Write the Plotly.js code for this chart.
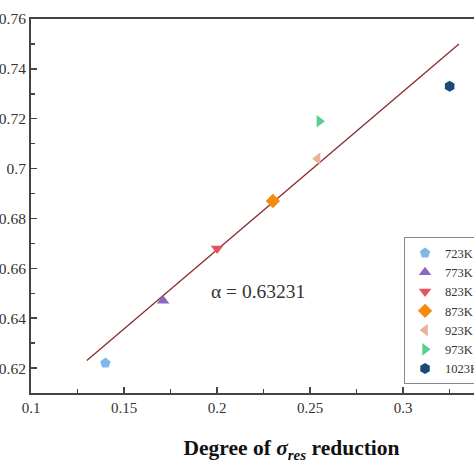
<!DOCTYPE html>
<html><head><meta charset="utf-8">
<script src="https://cdn.plot.ly/plotly-3.0.1.min.js"></script>
<style>html,body{margin:0;padding:0;overflow:hidden;width:474px;height:474px;background:#fff}#p{position:absolute;left:0;top:0;width:580px;height:474px}</style>
</head><body><div id="p"></div>
<script>
const names = ['723K','773K','823K','873K','923K','973K','1023K'];
const xVals = [0.140, 0.171, 0.200, 0.230, 0.254, 0.255, 0.325];
const yVals = [0.622, 0.647, 0.668, 0.687, 0.704, 0.719, 0.733];
const symbols = ['pentagon','triangle-up','triangle-down','diamond','triangle-left','triangle-right','hexagon'];
const colors = ['#82b8e8','#8b68c2','#e2545d','#f58a0c','#e8b39a','#5ccb8f','#1b4a78'];
const fitX = [0.13, 0.33];
const fitY = [0.623, 0.750];
const alphaText = 'α = 0.63231';

const traces = [{
  x: fitX, y: fitY, mode: 'lines', type: 'scatter', showlegend: false,
  line: {color: '#8b2a2a', width: 1.3}, hoverinfo: 'skip'
}];
names.forEach((n, i) => {
  traces.push({
    x: [xVals[i]], y: [yVals[i]], name: n, mode: 'markers', type: 'scatter',
    marker: {symbol: symbols[i], color: colors[i], size: 11}
  });
});

const font = {family: 'Liberation Serif, Times New Roman, serif', color: '#333', size: 15};
const layout = {
  width: 580, height: 474,
  margin: {l: 31, r: 28, t: 19, b: 81},
  paper_bgcolor: '#fff', plot_bgcolor: '#fff',
  font: font,
  showlegend: true,
  legend: {x: 0.716, y: 0.416, xanchor: 'left', yanchor: 'top',
    bordercolor: '#888', borderwidth: 1, bgcolor: '#fff',
    font: {family: font.family, size: 12.5, color: '#333'}, tracegroupgap: 0, itemwidth: 30},
  xaxis: {
    range: [0.1, 0.38], tick0: 0.1, dtick: 0.05, showgrid: false, zeroline: false,
    showline: true, linecolor: '#444', linewidth: 2, mirror: true,
    ticks: 'inside', ticklen: 6, tickcolor: '#444', tickwidth: 1.5,
    minor: {ticks: 'inside', ticklen: 4, dtick: 0.025, tick0: 0.1, tickcolor: '#444', showgrid: false},
    tickfont: {family: font.family, size: 15, color: '#333'},
    title: {text: '<b>Degree of <i>σ</i><sub><i>res</i></sub> reduction</b>', standoff: 25,
      font: {family: font.family, size: 21.5, color: '#111'}}
  },
  yaxis: {
    range: [0.61, 0.76], tick0: 0.62, dtick: 0.02, showgrid: false, zeroline: false,
    showline: true, linecolor: '#444', linewidth: 2, mirror: true,
    ticks: 'inside', ticklen: 6, tickcolor: '#444', tickwidth: 1.5,
    minor: {ticks: 'inside', ticklen: 4, dtick: 0.01, tick0: 0.62, tickcolor: '#444', showgrid: false},
    tickfont: {family: font.family, size: 15.5, color: '#333'}
  },
  annotations: [{
    x: 0.1957, y: 0.6508, xref: 'x', yref: 'y', text: alphaText, showarrow: false,
    xanchor: 'left', yanchor: 'middle',
    font: {family: font.family, size: 19.5, color: '#333'}
  }]
};
Plotly.newPlot('p', traces, layout, {displayModeBar: false, staticPlot: true});
</script></body></html>
